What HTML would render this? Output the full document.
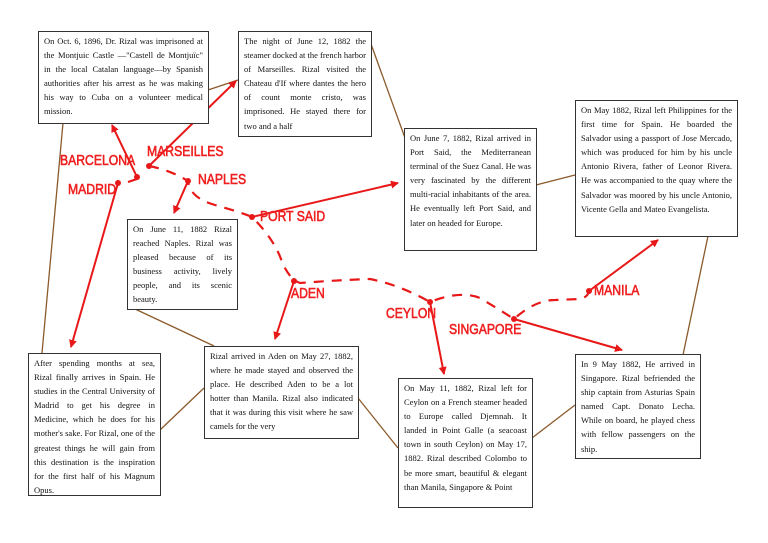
<!DOCTYPE html>
<html><head><meta charset="utf-8"><style>
body{margin:0;width:768px;height:543px;background:#fff;position:relative;overflow:hidden}
.b{position:absolute;border:1.5px solid #333;background:#fff;box-sizing:border-box;padding:2px 5px;font-family:"Liberation Serif",serif;font-size:8.5px;line-height:14.1px;text-align:justify;color:#111;overflow:hidden}
.l{position:absolute;font-family:"Liberation Sans",sans-serif;font-weight:normal;color:#f02020;font-size:14.5px;transform:scaleX(0.84);transform-origin:0 0;-webkit-text-stroke:0.6px #f02020}
svg{position:absolute;left:0;top:0}
</style></head><body>
<svg width="768" height="543">
<defs><marker id="a" markerWidth="8" markerHeight="8" refX="7" refY="4" orient="auto" markerUnits="userSpaceOnUse"><path d="M0,0 L8,4 L0,8z" fill="#e81818"/></marker></defs>
<g stroke="#8b5a2b" stroke-width="1.3" fill="none">
<line x1="63" y1="123" x2="42" y2="353"/>
<line x1="208" y1="90" x2="238" y2="80"/>
<line x1="371" y1="44" x2="405" y2="138"/>
<line x1="536" y1="185" x2="575" y2="175"/>
<line x1="708" y1="236" x2="683" y2="355"/>
<line x1="135" y1="309" x2="214" y2="346"/>
<line x1="160" y1="430" x2="204" y2="388"/>
<line x1="358" y1="398" x2="398" y2="448"/>
<line x1="532" y1="438" x2="575" y2="405"/>
</g>
<g stroke="#e81818" stroke-width="2.2" fill="none" stroke-dasharray="10,8">
<path d="M128,182 L140,178"/>
<path d="M149,166 Q170,170 188,181 Q190,198 215,205 Q240,212 252,217 Q275,240 282,262 Q290,280 300,283 Q340,280 370,279 Q400,285 430,302 Q460,290 480,298 Q500,310 514,319 Q535,300 555,300 L580,299 Q588,297 589,291"/>
</g>
<g stroke="#e81818" stroke-width="2" fill="none" marker-end="url(#a)">
<line x1="137" y1="177" x2="112" y2="125"/>
<line x1="149" y1="166" x2="236" y2="81"/>
<line x1="188" y1="181" x2="174" y2="213"/>
<line x1="252" y1="217" x2="398" y2="183"/>
<line x1="294" y1="281" x2="275" y2="339"/>
<line x1="430" y1="302" x2="444" y2="374"/>
<line x1="514" y1="319" x2="622" y2="350"/>
<line x1="589" y1="291" x2="658" y2="240"/>
<line x1="118" y1="183" x2="71" y2="347"/>
</g>
<g fill="#e81818">
<circle cx="137" cy="177" r="3"/><circle cx="149" cy="166" r="3"/><circle cx="188" cy="181" r="3"/><circle cx="252" cy="217" r="3"/><circle cx="294" cy="281" r="3"/><circle cx="430" cy="302" r="3"/><circle cx="514" cy="319" r="3"/><circle cx="589" cy="291" r="3"/><circle cx="118" cy="183" r="3"/>
</g>
</svg>
<div class="l" style="left:60px;top:153px">BARCELONA</div>
<div class="l" style="left:147px;top:144px">MARSEILLES</div>
<div class="l" style="left:198px;top:172px">NAPLES</div>
<div class="l" style="left:68px;top:182px">MADRID</div>
<div class="l" style="left:260px;top:209px">PORT SAID</div>
<div class="l" style="left:291px;top:286px">ADEN</div>
<div class="l" style="left:386px;top:306px">CEYLON</div>
<div class="l" style="left:449px;top:322px">SINGAPORE</div>
<div class="l" style="left:594px;top:283px">MANILA</div>
<div class="b" style="left:38px;top:31px;width:171px;height:93px">On Oct. 6, 1896, Dr. Rizal was imprisoned at the Montjuic Castle —"Castell de Montjuïc" in the local Catalan language—by Spanish authorities after his arrest as he was making his way to Cuba on a volunteer medical mission.</div>
<div class="b" style="left:238px;top:31px;width:134px;height:106px">The night of June 12, 1882 the steamer docked at the french harbor of Marseilles. Rizal visited the Chateau d'If where dantes the hero of count monte cristo, was imprisoned. He stayed there for two and a half</div>
<div class="b" style="left:404px;top:128px;width:133px;height:123px">On June 7, 1882, Rizal arrived in Port Said, the Mediterranean terminal of the Suez Canal. He was very fascinated by the different multi-racial inhabitants of the area. He eventually left Port Said, and later on headed for Europe.</div>
<div class="b" style="left:575px;top:100px;width:163px;height:137px">On May 1882, Rizal left Philippines for the first time for Spain. He boarded the Salvador using a passport of Jose Mercado, which was produced for him by his uncle Antonio Rivera, father of Leonor Rivera. He was accompanied to the quay where the Salvador was moored by his uncle Antonio, Vicente Gella and Mateo Evangelista.</div>
<div class="b" style="left:127px;top:219px;width:111px;height:91px">On June 11, 1882 Rizal reached Naples. Rizal was pleased because of its business activity, lively people, and its scenic beauty.</div>
<div class="b" style="left:28px;top:353px;width:133px;height:143px">After spending months at sea, Rizal finally arrives in Spain. He studies in the Central University of Madrid to get his degree in Medicine, which he does for his mother's sake. For Rizal, one of the greatest things he will gain from this destination is the inspiration for the first half of his Magnum Opus.</div>
<div class="b" style="left:204px;top:346px;width:155px;height:93px">Rizal arrived in Aden on May 27, 1882, where he made stayed and observed the place. He described Aden to be a lot hotter than Manila. Rizal also indicated that it was during this visit where he saw camels for the very</div>
<div class="b" style="left:398px;top:378px;width:135px;height:130px">On May 11, 1882, Rizal left for Ceylon on a French steamer headed to Europe called Djemnah. It landed in Point Galle (a seacoast town in south Ceylon) on May 17, 1882. Rizal described Colombo to be more smart, beautiful &amp; elegant than Manila, Singapore &amp; Point</div>
<div class="b" style="left:575px;top:354px;width:126px;height:105px">In 9 May 1882, He arrived in Singapore. Rizal befriended the ship captain from Asturias Spain named Capt. Donato Lecha. While on board, he played chess with fellow passengers on the ship.</div>
</body></html>
